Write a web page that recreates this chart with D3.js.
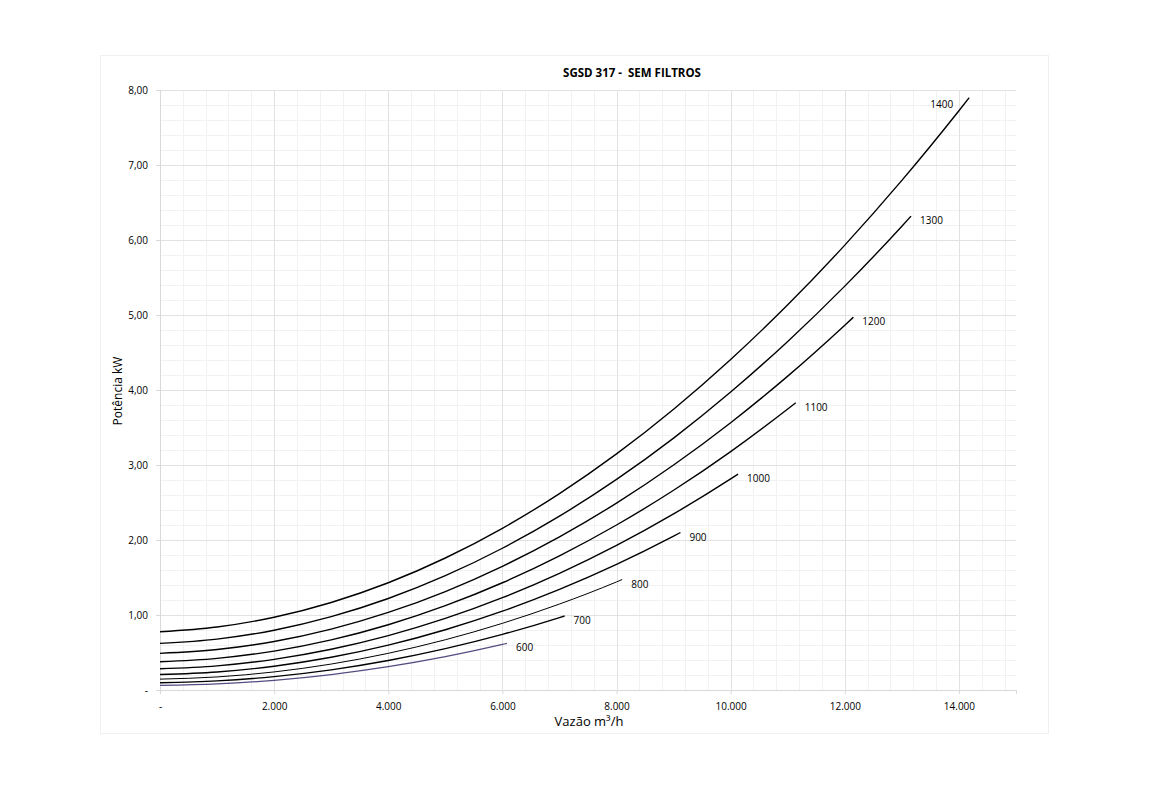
<!DOCTYPE html>
<html>
<head>
<meta charset="utf-8">
<script src="https://cdn.jsdelivr.net/npm/d3@7"></script>
<style>
  body { margin: 0; background: #fff; font-family: "Open Sans", "Liberation Sans", sans-serif; }
  .tick text { font-size: 10px; fill: #000; }
</style>
</head>
<body>
<div id="chart"></div>
<script>
// flow in thousands of m3/h, power in kW
var rpm = [600, 700, 800, 900, 1000, 1100, 1200, 1300, 1400];

var q600  = [0, 1, 2, 3, 4, 5, 6, 6.08];
var p600  = [0.061, 0.081, 0.129, 0.206, 0.311, 0.445, 0.608, 0.622];
var q700  = [0, 1, 2, 3, 4, 5, 6, 7, 7.09];
var p700  = [0.097, 0.121, 0.179, 0.269, 0.393, 0.551, 0.741, 0.965, 0.987];
var q800  = [0, 1, 2, 3, 4, 5, 6, 7, 8, 8.1];
var p800  = [0.145, 0.174, 0.241, 0.346, 0.489, 0.670, 0.889, 1.146, 1.441, 1.473];
var q900  = [0, 1, 2, 3, 4, 5, 6, 7, 8, 9, 9.12];
var p900  = [0.206, 0.240, 0.317, 0.436, 0.598, 0.803, 1.051, 1.342, 1.675, 2.052, 2.100];
var q1000 = [0, 1, 2, 3, 4, 5, 6, 7, 8, 9, 10, 10.13];
var p1000 = [0.283, 0.322, 0.409, 0.543, 0.725, 0.954, 1.231, 1.556, 1.928, 2.348, 2.815, 2.879];
var q1100 = [0, 1, 2, 3, 4, 5, 6, 7, 8, 9, 10, 11, 11.14];
var p1100 = [0.377, 0.422, 0.519, 0.668, 0.870, 1.124, 1.430, 1.789, 2.200, 2.663, 3.179, 3.747, 3.830];
var q1200 = [0, 1, 2, 3, 4, 5, 6, 7, 8, 9, 10, 11, 12, 12.15];
var p1200 = [0.489, 0.540, 0.647, 0.812, 1.034, 1.313, 1.649, 2.042, 2.492, 3.000, 3.564, 4.185, 4.864, 4.970];
var q1300 = [0, 1, 2, 3, 4, 5, 6, 7, 8, 9, 10, 11, 12, 13, 13.16];
var p1300 = [0.622, 0.679, 0.797, 0.978, 1.220, 1.524, 1.890, 2.318, 2.808, 3.359, 3.973, 4.648, 5.385, 6.184, 6.318];
var q1400 = [0, 1, 2, 3, 4, 5, 6, 7, 8, 9, 10, 11, 12, 13, 14, 14.18];
var p1400 = [0.777, 0.840, 0.970, 1.167, 1.430, 1.760, 2.156, 2.619, 3.148, 3.744, 4.407, 5.136, 5.932, 6.795, 7.724, 7.898];

var xTicks = [0, 2000, 4000, 6000, 8000, 10000, 12000, 14000];
var yTicks = [0, 1, 2, 3, 4, 5, 6, 7, 8];

var flows = [q600, q700, q800, q900, q1000, q1100, q1200, q1300, q1400];
var powers = [p600, p700, p800, p900, p1000, p1100, p1200, p1300, p1400];

var series = rpm.map(function(n, i) {
    return {
        rpm: n,
        points: flows[i].map(function(q, j) { return {q: q * 1000, p: powers[i][j]}; })
    };
});

var W = 1150, H = 789;
var margin = {top: 90, right: 134, bottom: 99, left: 160};
var width = W - margin.left - margin.right;   // 856
var height = H - margin.top - margin.bottom;  // 600

var x = d3.scaleLinear().domain([0, 15000]).range([0, width]);
var y = d3.scaleLinear().domain([0, 8]).range([height, 0]);

var svg = d3.select("#chart").append("svg")
    .attr("width", W)
    .attr("height", H);

// chart area frame
svg.append("rect")
    .attr("x", 100.5).attr("y", 55.5)
    .attr("width", 948).attr("height", 678)
    .attr("fill", "#fff")
    .attr("stroke", "#f0f0f0");

var g = svg.append("g")
    .attr("transform", "translate(" + margin.left + "," + margin.top + ")");

// minor grid
var minorX = d3.range(0, 15001, 400).filter(function(v) { return v % 2000 != 0; });
var minorY = d3.range(0, 8.01, 0.2).filter(function(v) { return Math.abs(v - Math.round(v)) > 0.01; });

g.selectAll(".minor-x").data(minorX).enter().append("line")
    .attr("x1", function(d) { return Math.round(x(d)) + 0.5; })
    .attr("x2", function(d) { return Math.round(x(d)) + 0.5; })
    .attr("y1", 0).attr("y2", height)
    .attr("stroke", "#f2f2f2");
g.selectAll(".minor-y").data(minorY).enter().append("line")
    .attr("x1", 0).attr("x2", width)
    .attr("y1", function(d) { return Math.round(y(d)) + 0.5; })
    .attr("y2", function(d) { return Math.round(y(d)) + 0.5; })
    .attr("stroke", "#f2f2f2");

// major grid
g.selectAll(".major-x").data(xTicks.slice(1)).enter().append("line")
    .attr("x1", function(d) { return Math.round(x(d)) + 0.5; })
    .attr("x2", function(d) { return Math.round(x(d)) + 0.5; })
    .attr("y1", 0).attr("y2", height)
    .attr("stroke", "#e2e2e2");
g.selectAll(".major-y").data(yTicks.slice(1)).enter().append("line")
    .attr("x1", 0).attr("x2", width)
    .attr("y1", function(d) { return Math.round(y(d)) + 0.5; })
    .attr("y2", function(d) { return Math.round(y(d)) + 0.5; })
    .attr("stroke", "#e2e2e2");

var fmtX = function(d) { return d == 0 ? "-" : d3.format(",")(d).replace(/,/g, "."); };
var fmtY = function(d) { return d == 0 ? "-" : d3.format(".2f")(d).replace(".", ","); };

var xAxis = g.append("g")
    .attr("transform", "translate(0," + height + ")")
    .call(d3.axisBottom(x).tickValues(xTicks).tickFormat(fmtX).tickSize(4).tickPadding(9));
var yAxis = g.append("g")
    .call(d3.axisLeft(y).tickValues(yTicks).tickFormat(fmtY).tickSize(4).tickPadding(8));

[xAxis, yAxis].forEach(function(a) {
    a.select(".domain").attr("stroke", "#d9d9d9");
    a.selectAll(".tick line").attr("stroke", "#d9d9d9");
    a.selectAll(".tick text").style("font-family", "'Open Sans', sans-serif");
});

var line = d3.line()
    .x(function(d) { return x(d.q); })
    .y(function(d) { return y(d.p); })
    .curve(d3.curveMonotoneX);

g.selectAll(".curve").data(series).enter().append("path")
    .attr("d", function(d) { return line(d.points); })
    .attr("fill", "none")
    .attr("stroke", function(d) { return d.rpm == 600 ? "#574a80" : "#000"; })
    .attr("stroke-width", function(d) { return d.rpm == 800 ? 1 : (d.rpm == 600 ? 1.2 : 1.4); });

// labels at curve ends
g.selectAll(".lbl").data(series).enter().append("text")
    .attr("x", function(d) {
        var e = d.points[d.points.length - 1];
        return d.rpm == 1400 ? x(e.q) - 16 : x(e.q) + 9;
    })
    .attr("y", function(d) {
        var e = d.points[d.points.length - 1];
        return y(e.p) + (d.rpm == 1400 ? 10 : 8);
    })
    .attr("text-anchor", function(d) { return d.rpm == 1400 ? "end" : "start"; })
    .style("font-size", "10px")
    .text(function(d) { return d.rpm; });

// titles
svg.append("text")
    .attr("x", 632).attr("y", 77)
    .attr("text-anchor", "middle")
    .style("font-size", "11.5px")
    .style("font-weight", "bold")
    .style("white-space", "pre")
    .attr("xml:space", "preserve")
    .text("SGSD 317 -  SEM FILTROS");

svg.append("text")
    .attr("x", 589).attr("y", 726)
    .attr("text-anchor", "middle")
    .style("font-size", "13px")
    .text("Vazão m³/h");

svg.append("text")
    .attr("transform", "translate(122," + (margin.top + height / 2 + 1) + ") rotate(-90)")
    .attr("text-anchor", "middle")
    .style("font-size", "12px")
    .text("Potência kW");
</script>
</body>
</html>
